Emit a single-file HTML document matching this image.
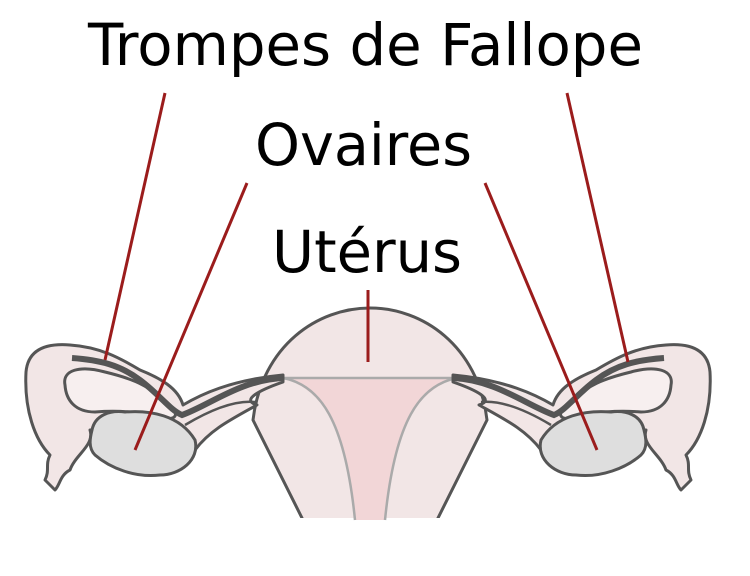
<!DOCTYPE html>
<html><head><meta charset="utf-8"><style>
html,body{margin:0;padding:0;background:#fff;}
svg{display:block;}
text{font-family:"DejaVu Sans","Liberation Sans",sans-serif;fill:#000;}
</style></head><body>
<svg width="750" height="576" viewBox="0 0 750 576" xmlns="http://www.w3.org/2000/svg">
<text x="88" y="65" font-size="58" textLength="555" lengthAdjust="spacingAndGlyphs">Trompes de Fallope</text>
<text x="255" y="165" font-size="58" textLength="217" lengthAdjust="spacingAndGlyphs">Ovaires</text>
<text x="272" y="272" font-size="58" textLength="190" lengthAdjust="spacingAndGlyphs">Utérus</text>

<!-- uterus -->
<path d="M253,420 C262,345 318,308 370,308 C422,308 478,345 487,420 L437,520 L303,520 Z" fill="#f2e6e6" stroke="#555" stroke-width="3"/>
<rect x="290" y="518" width="160" height="10" fill="#fff"/>
<path d="M283,378 L457,378 C420,390 395,420 385,520 L355,520 C345,420 320,390 283,378 Z" fill="#f2d6d7"/>
<path d="M283,378 C320,385 345,420 355,520 M457,378 C420,385 395,420 385,520" fill="none" stroke="#aaa" stroke-width="2.5"/>
<line x1="283" y1="378" x2="457" y2="378" stroke="#aaa" stroke-width="2.5"/>

<g id="side">
 <!-- tube outer -->
 <path d="M26,372 C28,350 45,343 70,345 C100,347 120,358 140,370 C160,378 178,388 183,405 C200,395 230,380 283,375 L283,382 C260,390 240,400 257,405 C230,420 210,430 195,450 L190,450 C170,440 160,430 140,425 C110,425 100,430 90,430 C95,445 75,455 70,470 C60,475 60,485 55,490 L45,480 C50,470 45,465 50,455 C35,440 24,410 26,372 Z" fill="#f2e6e6" stroke="#555" stroke-width="3" stroke-linejoin="round"/>
 <!-- inner loop -->
 <path d="M65,385 C62,370 80,365 105,372 C130,378 150,385 170,405 C180,415 175,420 165,418 C140,412 120,410 95,412 C75,412 66,400 65,385 Z" fill="#f7efef" stroke="#555" stroke-width="3"/>
 <path d="M185,425 C210,410 235,400 255,402" fill="none" stroke="#555" stroke-width="2.5"/>
 <!-- dark tube -->
 <path d="M72,358 C100,360 120,365 140,380 C160,395 170,410 182,415 C210,405 240,380 283,378" fill="none" stroke="#555" stroke-width="6"/>
 <!-- ovary -->
 <path d="M92,430 C95,415 110,410 125,412 C150,410 180,415 195,440 C200,460 180,475 160,475 C135,478 110,468 95,455 C88,448 90,438 92,430 Z" fill="#dedede" stroke="#555" stroke-width="3"/>
</g>
<use href="#side" transform="translate(736,0) scale(-1,1)"/>

<!-- leader lines -->
<g stroke="#9b1c1c" stroke-width="3">
 <line x1="165" y1="93" x2="105" y2="360"/>
 <line x1="247" y1="183" x2="135" y2="450"/>
 <line x1="368" y1="290" x2="368" y2="362"/>
 <line x1="485" y1="183" x2="597" y2="450"/>
 <line x1="567" y1="93" x2="628" y2="362"/>
</g>
</svg>
</body></html>
